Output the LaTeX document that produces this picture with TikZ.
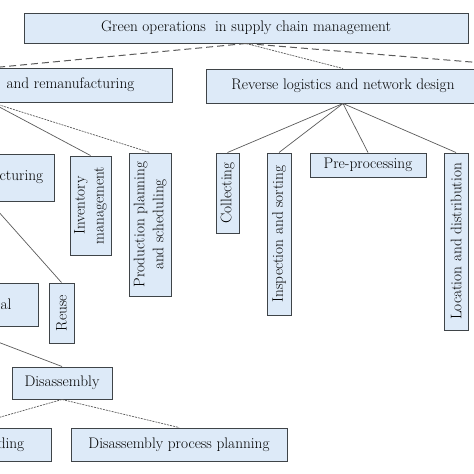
\documentclass[tikz,border=0pt]{standalone}
\usepackage{fontspec}
\usetikzlibrary{positioning}
\definecolor{boxline}{HTML}{3F4448}
\definecolor{boxfill}{HTML}{DDEAF8}
\definecolor{linkgray}{HTML}{5A5A5A}

\begin{document}
\begin{tikzpicture}[
      x=1pt,y=-1pt,
      box/.style={
        draw=boxline,
        line width=1pt,
        fill=boxfill,
        inner sep=0pt,
        align=center,
        font=\fontsize{15.3}{19}\selectfont
      },
      vbox/.style={box,rotate=90},
      link/.style={draw=linkgray,line width=0.7pt},
      dlink/.style={link,dash pattern=on 2pt off 1pt},
      toplink/.style={draw=linkgray,line width=1pt,dash pattern=on 7pt off 4pt}
    ]
    \useasboundingbox (0,0) rectangle (474,474);
    \clip (0,0) rectangle (474,474);

    % first two levels
    \node[box,minimum width=444pt,minimum height=30pt] (green) at (246,28) {Green operations\ \ in supply chain management};
    \node[box,minimum width=203pt,minimum height=34pt] (remanu) at (70.5,85) {and remanufacturing};
    \node[box,minimum width=274pt,minimum height=34pt] (reverse) at (343,86) {Reverse logistics and network design};

    % remanufacturing branch
    \node[box,minimum width=65pt,minimum height=47pt] (manuf) at (21.5,177.5) {cturing};
    \node[vbox,minimum width=99pt,minimum height=41pt] (inventory) at (90.5,205.5) {Inventory\\management};
    \node[vbox,minimum width=143pt,minimum height=42pt] (production) at (150,224.5) {Production planning\\and scheduling};
    \node[box,minimum width=64pt,minimum height=43pt] (recovery) at (6,304.5) {al};
    \node[vbox,minimum width=60pt,minimum height=25pt] (reuse) at (61.5,313) {Reuse};
    \node[box,minimum width=100pt,minimum height=32pt] (disassembly) at (62,383) {Disassembly};
    \node[box,minimum width=80pt,minimum height=33pt] (ding) at (11,444.5) {ding};
    \node[box,minimum width=216pt,minimum height=33pt] (dpp) at (179,444.5) {Disassembly process planning};

    % reverse logistics branch
    \node[vbox,minimum width=80pt,minimum height=23pt] (collecting) at (227.5,193) {Collecting};
    \node[vbox,minimum width=162pt,minimum height=24pt] (inspection) at (279,234) {Inspection and sorting};
    \node[box,minimum width=116pt,minimum height=24pt] (preproc) at (368,165) {Pre-processing};
    \node[vbox,minimum width=177pt,minimum height=24pt] (location) at (456,241.5) {Location and distribution};

    % ends of connectors outside the frame
    \coordinate (remanuTop) at (-10,68);
    \coordinate (remanuBot) at (-10,102);
    \coordinate (rightTop) at (520,66);
    \coordinate (manufBot) at (-11,201);
    \coordinate (recoveryBot) at (-44,326);
    \coordinate (dingTop) at (-38,428);

    \draw[toplink] (green.south) -- (remanuTop);
    \draw[toplink] (green.south) -- (rightTop);
    \draw[dlink] (green.south) -- (reverse.north);
    \draw[link] (remanuBot) -- (inventory.east);
    \draw[dlink] (remanuBot) -- (production.east);
    \draw[link] (manufBot) -- (reuse.east);
    \draw[link] (recoveryBot) -- (disassembly.north);
    \draw[dlink] (disassembly.south) -- (dingTop);
    \draw[dlink] (disassembly.south) -- (dpp.north);
    \draw[link] (reverse.south) -- (collecting.east);
    \draw[link] (reverse.south) -- (inspection.east);
    \draw[link] (reverse.south) -- (preproc.north);
    \draw[link] (reverse.south) -- (location.east);
  \end{tikzpicture}
\end{document}
